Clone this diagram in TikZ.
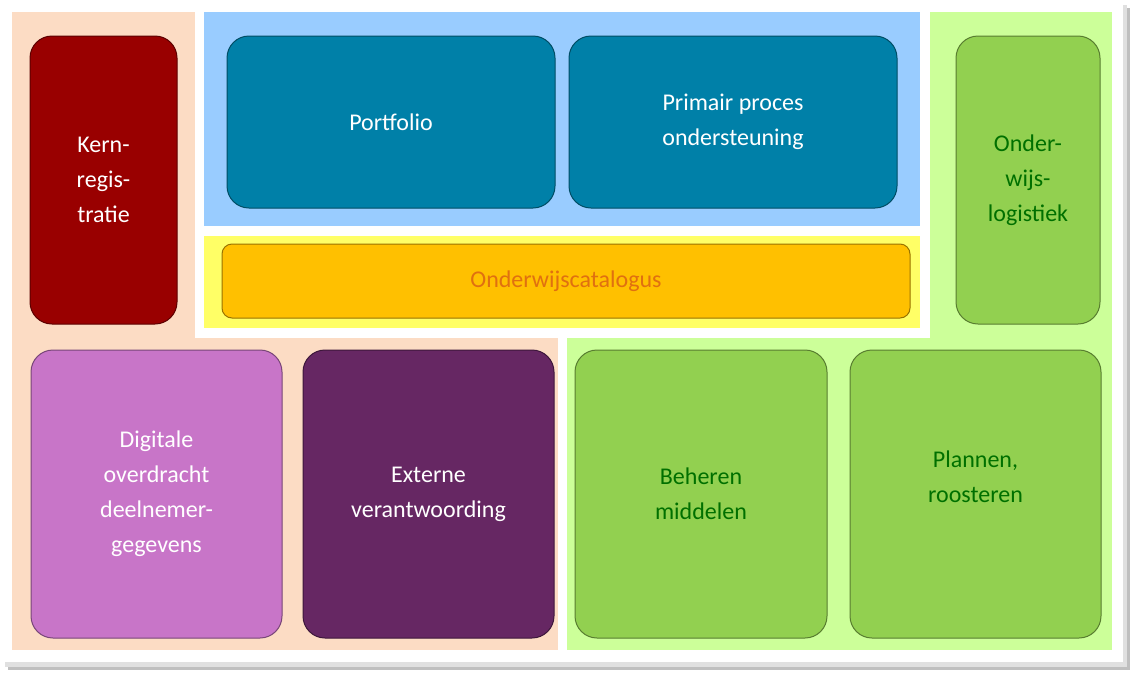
\documentclass[tikz,border=0pt]{standalone}
\usepackage{fontspec}
\setmainfont{Carlito}
\begin{document}
\begin{tikzpicture}[x=1pt,y=-1pt,
  box/.style={rounded corners=22pt,draw=#1!60!black,line width=1pt},
  lbl/.style={align=center,font=\fontsize{24}{35}\selectfont}]
\useasboundingbox (0,0) rectangle (1135,673);
\definecolor{peach}{HTML}{FCDCC4}
\definecolor{lblue}{HTML}{99CCFF}
\definecolor{lyel}{HTML}{FFFF66}
\definecolor{lgreen}{HTML}{CCFF99}
\definecolor{kred}{HTML}{990000}
\definecolor{teal}{HTML}{0080A8}
\definecolor{gold}{HTML}{FFC000}
\definecolor{grn}{HTML}{92D050}
\definecolor{pink}{HTML}{C875C8}
\definecolor{plum}{HTML}{662763}
\definecolor{dgreen}{HTML}{007000}
\definecolor{ortxt}{HTML}{E07010}
\fill[black!25] (8,8) rectangle (1130,670);
\fill[black!12] (5,5) rectangle (1127,667);
\fill[white] (2,2) rectangle (1123,662);
\fill[peach] (12,12) rectangle (195,338);
\fill[peach] (12,338) rectangle (558,650);
\fill[lblue] (204,12) rectangle (920,226);
\fill[lyel] (204,236) rectangle (920,328);
\fill[lgreen] (930,12) rectangle (1112,338);
\fill[lgreen] (567,338) rectangle (1112,650);
\path[box=kred,fill=kred] (30,36) rectangle (177,324);
\node[lbl,text=white] (kern) at (103.5,180) {Kern-\\regis-\\tratie};
\path[box=teal,fill=teal] (227,36) rectangle (555,208);
\node[lbl,text=white] (port) at (391,122) {Portfolio};
\path[box=teal,fill=teal] (569,36) rectangle (897,208);
\node[lbl,text=white] (prim) at (733,122) {Primair proces\\ondersteuning};
\path[box=gold,fill=gold,rounded corners=10pt] (222,244) rectangle (910,318);
\node[lbl,text=ortxt] (cat) at (566,281) {Onderwijscatalogus};
\path[box=grn,fill=grn] (956,36) rectangle (1100,324);
\node[lbl,text=dgreen] (log) at (1028,180) {Onder-\\wijs-\\logistiek};
\path[box=pink,fill=pink] (31,350) rectangle (282,638);
\node[lbl,text=white] (dig) at (156.5,494) {Digitale\\overdracht\\deelnemer-\\gegevens};
\path[box=plum,fill=plum] (303,350) rectangle (554,638);
\node[lbl,text=white] (ext) at (428.5,494) {Externe\\verantwoording};
\path[box=grn,fill=grn] (575,350) rectangle (827,638);
\node[lbl,text=dgreen] (beh) at (701,494) {Beheren\\middelen};
\path[box=grn,fill=grn] (850,350) rectangle (1101,638);
\node[lbl,text=dgreen] (plan) at (975.5,477) {Plannen,\\roosteren};
\end{tikzpicture}
\end{document}
